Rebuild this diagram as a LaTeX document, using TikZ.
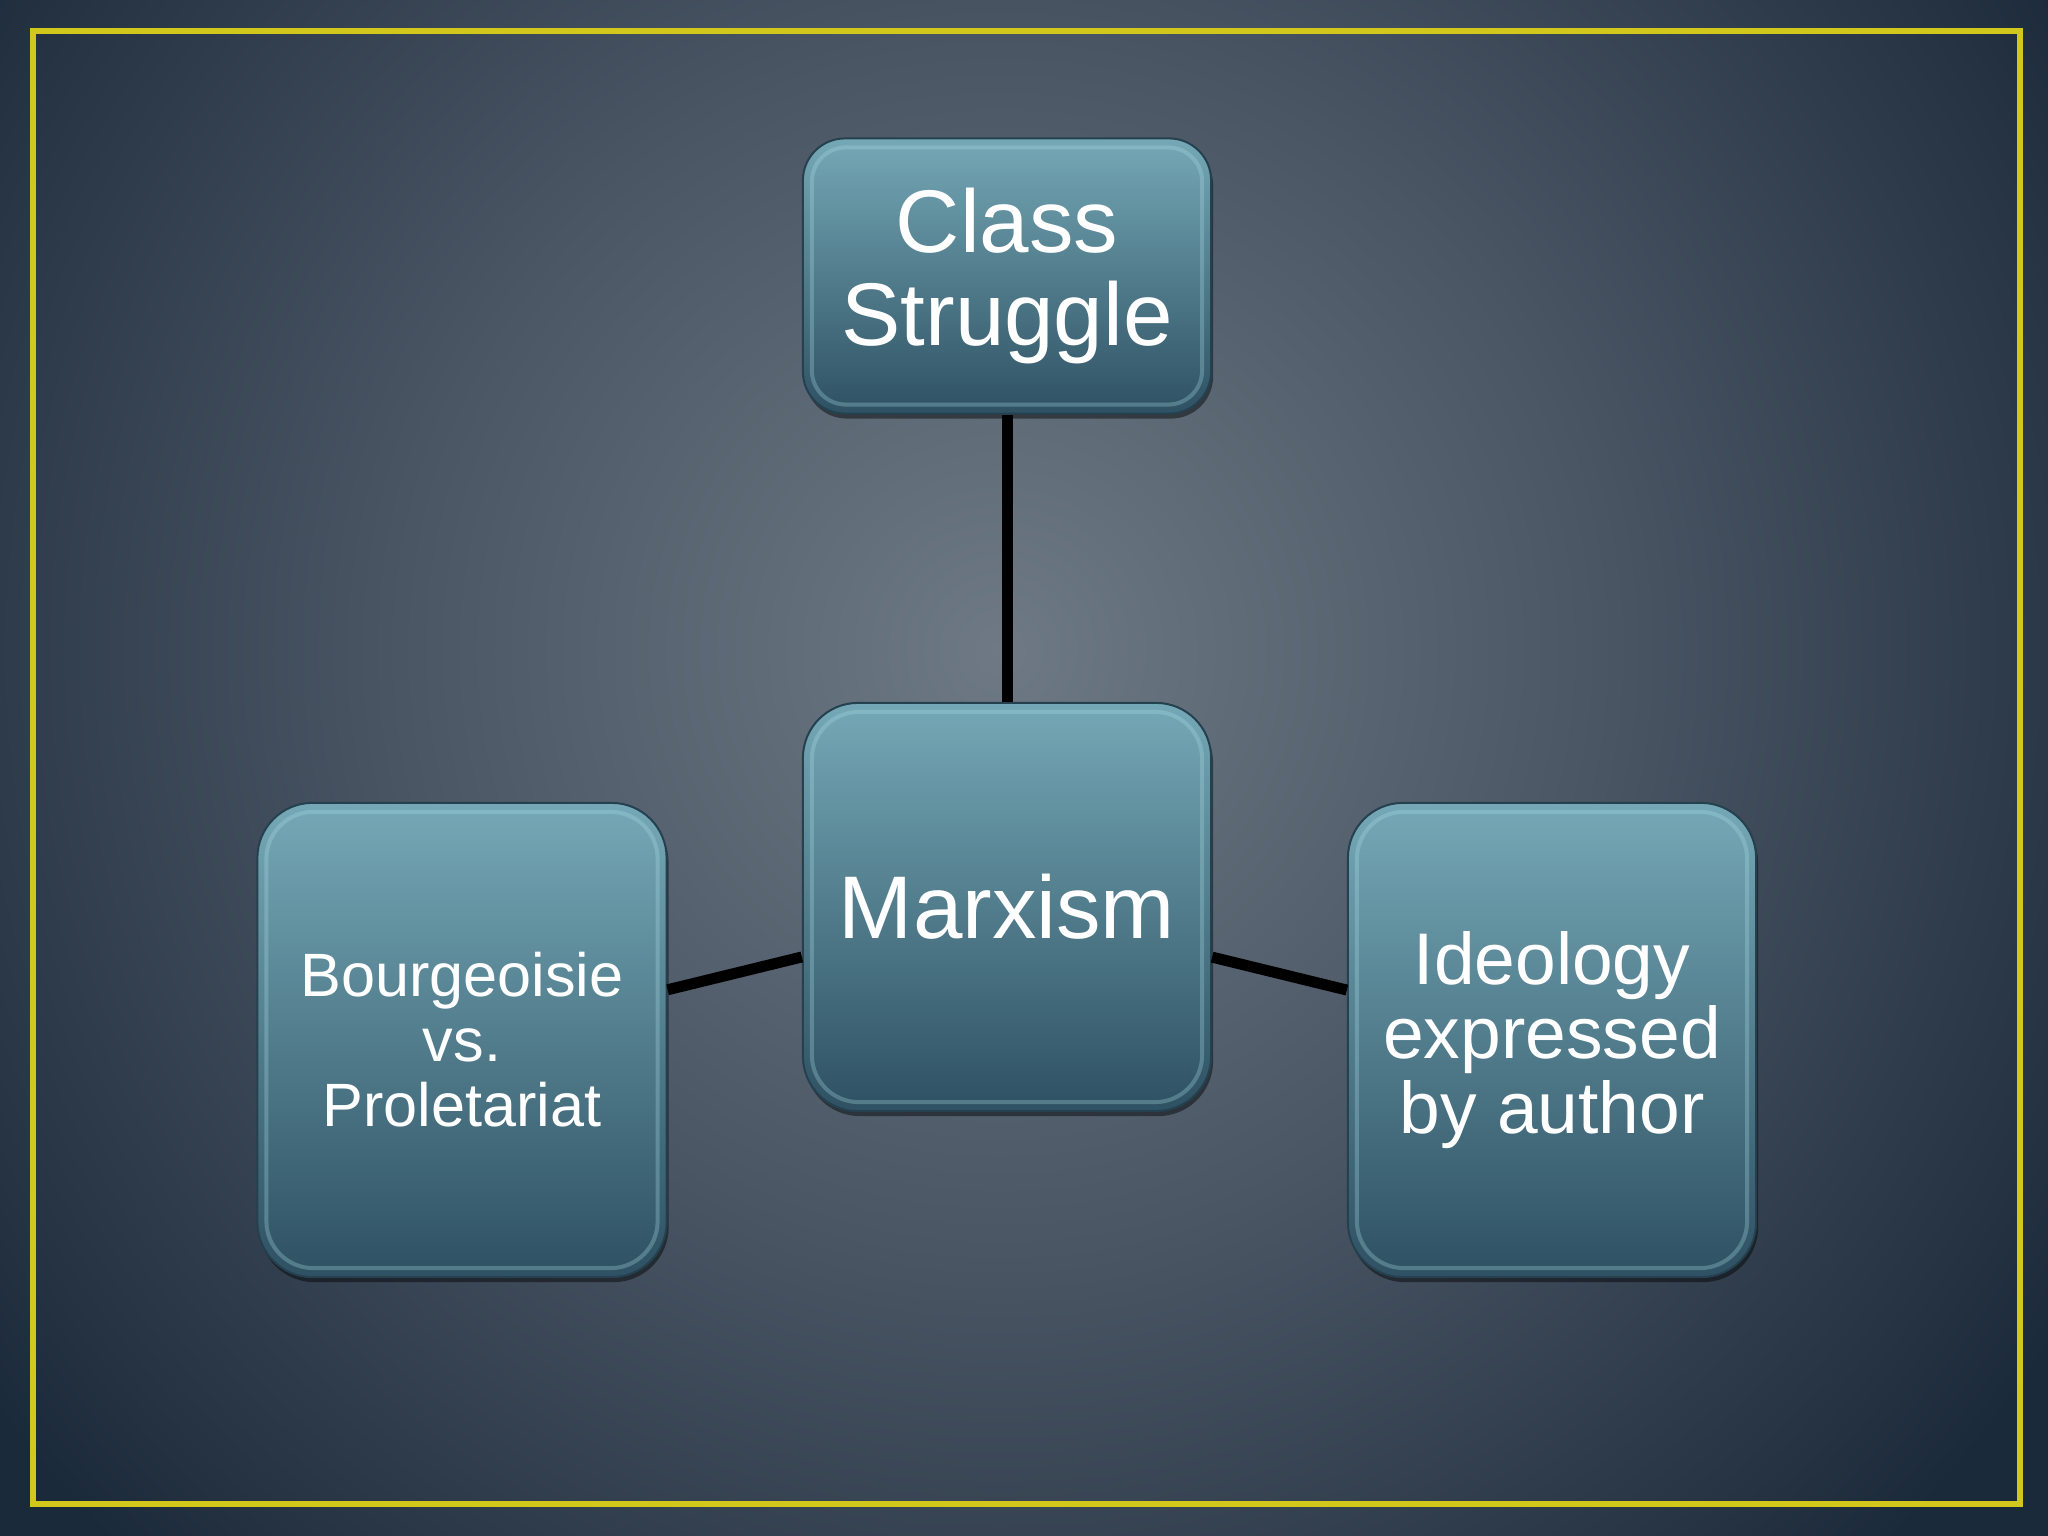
\documentclass[tikz,border=0pt]{standalone}
\usepackage{fontspec}
\setmainfont{Liberation Sans}
\usetikzlibrary{shadows}

\definecolor{bgin}{HTML}{6E7985}
\definecolor{bgmid}{HTML}{4A5664}
\definecolor{bgedge}{HTML}{2E3B4A}
\definecolor{bgout}{HTML}{1B2A3A}
\definecolor{tiletop}{HTML}{75A8B6}
\definecolor{tilemid}{HTML}{4D7E8F}
\definecolor{tilebot}{HTML}{2E5163}
\definecolor{tilerim}{HTML}{A9DCE6}
\definecolor{framey}{HTML}{D2C81C}

\pgfdeclareradialshading{slidebg}{\pgfpoint{0bp}{0bp}}{color(0bp)=(bgin); color(10bp)=(bgmid); color(16.7bp)=(bgedge); color(21bp)=(bgout); color(50bp)=(bgout)}

\newcommand{\bigtxt}{\fontsize{25.3pt}{26.5pt}\selectfont}
\newcommand{\midtxt}{\fontsize{20.8pt}{21.3pt}\selectfont}
\newcommand{\smalltxt}{\fontsize{17.4pt}{18.5pt}\selectfont}

\tikzset{
  tile/.style={rounded corners=#1, top color=tiletop, middle color=tilemid, bottom color=tilebot,
    draw=tilebot!80!black, line width=0.02cm, text=white, align=center, inner sep=0pt,
    drop shadow={shadow xshift=0.02cm, shadow yshift=-0.05cm, opacity=.45, fill=black},
    path picture={\draw[tilerim, opacity=.3, line width=0.04cm, rounded corners=#1-0.08cm]
      ([shift={(0.09cm,-0.09cm)}]path picture bounding box.north west) rectangle
      ([shift={(-0.09cm,0.09cm)}]path picture bounding box.south east);}},
  link/.style={line width=0.11cm, black}
}

\begin{document}
\begin{tikzpicture}[x=0.01cm,y=-0.01cm]
\useasboundingbox (0,0) rectangle (2048,1536);
\begin{scope}
\clip (0,0) rectangle (2048,1536);
\shade[shading=slidebg] (1000,650) circle (15cm);
\end{scope}
\draw[framey, line width=0.06cm] (33,31) rectangle (2020,1504);

\node[tile=0.42cm, minimum width=4.08cm, minimum height=2.75cm, font=\bigtxt] (struggle) at (1007,276) {Class\\Struggle};
\node[tile=0.55cm, minimum width=4.08cm, minimum height=4.08cm, font=\bigtxt] (marx) at (1007,907) {Marxism};
\node[tile=0.55cm, minimum width=4.09cm, minimum height=4.74cm, font=\smalltxt] (bourg) at (462,1040) {Bourgeoisie\\vs.\\Proletariat};
\node[tile=0.55cm, minimum width=4.08cm, minimum height=4.74cm, font=\midtxt] (ideol) at (1552,1040) {Ideology\\expressed\\by author};

\draw[link] (struggle) -- (marx);
\draw[link] (bourg) -- (marx);
\draw[link] (marx) -- (ideol);
\end{tikzpicture}
\end{document}
